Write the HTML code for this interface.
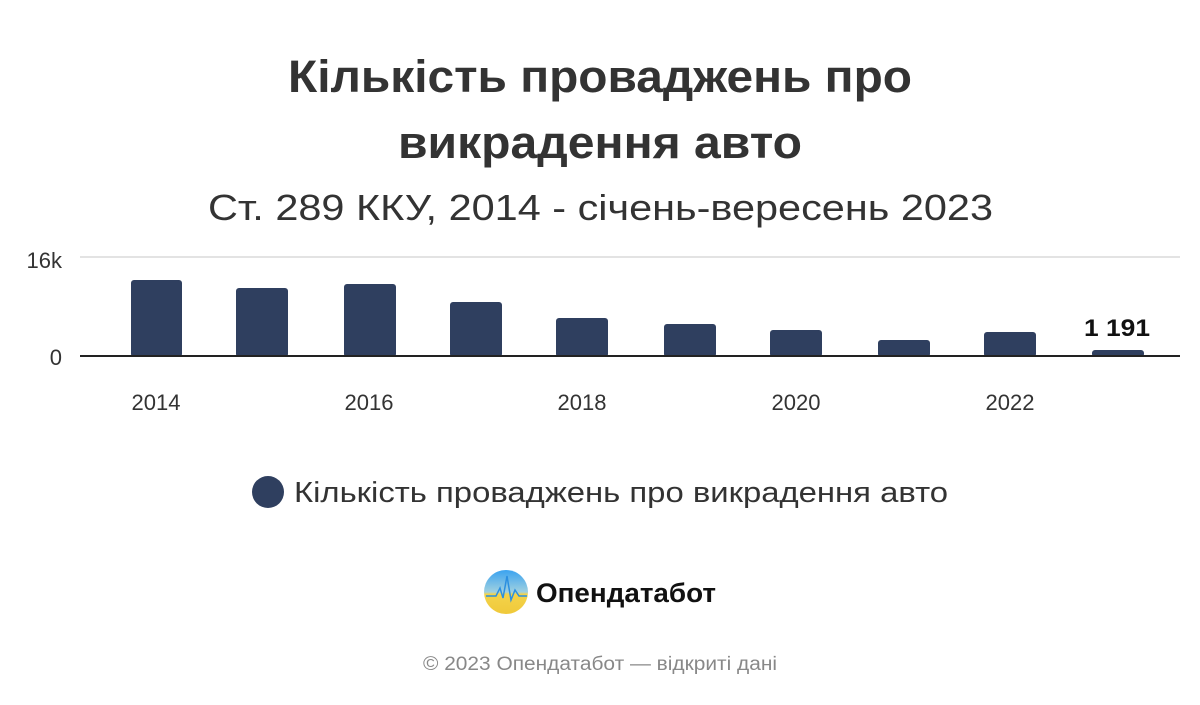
<!DOCTYPE html>
<html><head><meta charset="utf-8"><style>
body{margin:0;width:1200px;height:700px;background:#fff;font-family:"Liberation Sans","DejaVu Sans",sans-serif;overflow:hidden}
</style></head><body>
<svg width="1200" height="700" xmlns="http://www.w3.org/2000/svg" font-family="Liberation Sans, DejaVu Sans, sans-serif">
<defs>
<linearGradient id="g" x1="0" y1="0" x2="0" y2="1"><stop offset="0" stop-color="#3aa3f0"/><stop offset="0.5" stop-color="#9fd0e0"/><stop offset="0.55" stop-color="#f3d34a"/><stop offset="1" stop-color="#f0c93a"/></linearGradient>
</defs>
<text x="288" y="92" textLength="624" lengthAdjust="spacingAndGlyphs" font-size="45" font-weight="bold" fill="#333">Кількість проваджень про</text>
<text x="398" y="158" textLength="404" lengthAdjust="spacingAndGlyphs" font-size="45" font-weight="bold" fill="#333">викрадення авто</text>
<text x="208" y="220" textLength="785" lengthAdjust="spacingAndGlyphs" font-size="36" fill="#333">Ст. 289 ККУ, 2014 - січень-вересень 2023</text>
<line x1="80" y1="257" x2="1180" y2="257" stroke="#e3e3e3" stroke-width="2"/>
<text x="62" y="268" text-anchor="end" font-size="22" fill="#333">16k</text>
<text x="62" y="365" text-anchor="end" font-size="22" fill="#333">0</text>
<g fill="#2f3f5f">
<rect x="131" y="280" width="51" height="77" rx="3"/>
<rect x="236" y="288" width="52" height="69" rx="3"/>
<rect x="344" y="284" width="52" height="73" rx="3"/>
<rect x="450" y="302" width="52" height="55" rx="3"/>
<rect x="556" y="318" width="52" height="39" rx="3"/>
<rect x="664" y="324" width="52" height="33" rx="3"/>
<rect x="770" y="330" width="52" height="27" rx="3"/>
<rect x="878" y="340" width="52" height="17" rx="3"/>
<rect x="984" y="332" width="52" height="25" rx="3"/>
<rect x="1092" y="350" width="52" height="7" rx="3"/>
</g>
<line x1="80" y1="356" x2="1180" y2="356" stroke="#222" stroke-width="2"/>
<text x="1084" y="336" textLength="66" lengthAdjust="spacingAndGlyphs" font-size="24" font-weight="bold" fill="#111">1 191</text>
<g font-size="22" fill="#333" text-anchor="middle">
<text x="156" y="410">2014</text><text x="369" y="410">2016</text><text x="582" y="410">2018</text><text x="796" y="410">2020</text><text x="1010" y="410">2022</text>
</g>
<circle cx="268" cy="492" r="16" fill="#2f3f5f"/>
<text x="294" y="502" textLength="654" lengthAdjust="spacingAndGlyphs" font-size="29" fill="#333">Кількість проваджень про викрадення авто</text>
<circle cx="506" cy="592" r="22" fill="url(#g)"/>
<polyline points="486,596 496,596 500,588 503,598 507,576 511,600 515,590 519,596 527,596" fill="none" stroke="#2b8fe0" stroke-width="1.5"/>
<text x="536" y="602" textLength="180" lengthAdjust="spacingAndGlyphs" font-size="27" font-weight="bold" fill="#111">Опендатабот</text>
<text x="423" y="670" textLength="354" lengthAdjust="spacingAndGlyphs" font-size="19" fill="#888">© 2023 Опендатабот — відкриті дані</text>
</svg>
</body></html>
